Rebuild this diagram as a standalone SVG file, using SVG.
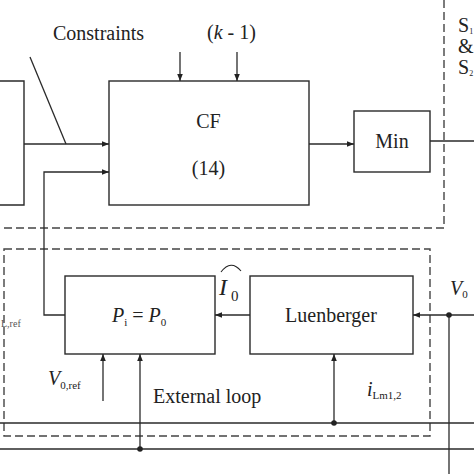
<svg xmlns="http://www.w3.org/2000/svg" width="474" height="474" viewBox="0 0 474 474">
<style>
.b{fill:none;stroke:#2a2a2a;stroke-width:1.4}
.l{fill:none;stroke:#2a2a2a;stroke-width:1.3}
.d{fill:none;stroke:#444;stroke-width:1.4;stroke-dasharray:8 4}
.t{font-family:"Liberation Serif",serif;font-size:20px;fill:#222}
.i{font-style:italic}
.s{font-size:11px}
</style>
<defs>
<marker id="a" viewBox="0 0 10 10" refX="10" refY="5" markerWidth="7" markerHeight="7" markerUnits="userSpaceOnUse" orient="auto">
<path d="M0,1 L10,5 L0,9 z" fill="#222"/>
</marker>
</defs>
<rect width="474" height="474" fill="#fff"/>
<g id="frames">
<path class="d" d="M444,0 V228 H0"/>
<rect class="d" x="4" y="249" width="426" height="187"/>
</g>
<g id="left-block"><path class="b" d="M-2,81 H24 V205 H-2"/></g>
<g id="cf"><rect class="b" x="109" y="81" width="200" height="124"/>
<text class="t" x="208.5" y="128" text-anchor="middle">CF</text>
<text class="t" x="208.5" y="175" text-anchor="middle">(14)</text></g>
<g id="min"><rect class="b" x="354" y="111" width="76" height="61"/>
<text class="t" x="392" y="148" text-anchor="middle">Min</text></g>
<g id="p"><rect class="b" x="65" y="276" width="150" height="78"/>
<text class="t" x="112" y="322"><tspan class="i">P</tspan><tspan class="s" dy="4">i</tspan><tspan dy="-4"> = </tspan><tspan class="i">P</tspan><tspan class="s" dy="4">0</tspan></text></g>
<g id="luenberger"><rect class="b" x="250" y="276" width="163" height="78"/>
<text class="t" x="331" y="322" text-anchor="middle">Luenberger</text></g>
<g id="connectors">
<path class="l" d="M24,144 H109" marker-end="url(#a)"/>
<path class="l" d="M30,57 L66,144"/>
<path class="l" d="M65,315 H44 V172 H109" marker-end="url(#a)"/>
<path class="l" d="M180,52 V81" marker-end="url(#a)"/>
<path class="l" d="M237,52 V81" marker-end="url(#a)"/>
<path class="l" d="M309,144 H354" marker-end="url(#a)"/>
<path class="l" d="M430,141 H474"/>
<path class="l" d="M250,315 H215" marker-end="url(#a)"/>
<path class="l" d="M474,315 H413" marker-end="url(#a)"/>
<path class="l" d="M449,315 V474"/>
<path class="l" d="M0,423 H474"/>
<path class="l" d="M0,449 H474"/>
<path class="l" d="M140,449 V354" marker-end="url(#a)"/>
<path class="l" d="M103,401 V354" marker-end="url(#a)"/>
<path class="l" d="M334,423 V354" marker-end="url(#a)"/>
<circle cx="449" cy="315" r="2.8" fill="#222"/>
<circle cx="140" cy="449" r="2.8" fill="#222"/>
<circle cx="334" cy="423" r="2.8" fill="#222"/>
</g>
<g id="labels">
<text class="t" x="53" y="40">Constraints</text>
<text class="t" x="207" y="39">(<tspan class="i">k</tspan> - 1)</text>
<text class="t" x="458" y="32">S<tspan style="font-size:8px" dy="2">1</tspan></text>
<text class="t" x="458" y="53">&amp;</text>
<text class="t" x="458" y="74">S<tspan style="font-size:8px" dy="2">2</tspan></text>
<text class="t" x="1" y="327" style="font-size:10px;fill:#555">L,ref</text>
<text class="t i" x="219" y="295" style="font-size:24px">I</text>
<text class="t" x="231" y="301" style="font-size:15px">0</text>
<path d="M221,272 Q231,259 241,271" fill="none" stroke="#222" stroke-width="1.1"/>
<text class="t" x="48" y="385"><tspan class="i">V</tspan><tspan class="s" dy="4">0,ref</tspan></text>
<text class="t" x="153" y="403">External loop</text>
<text class="t" x="367" y="396"><tspan class="i">i</tspan><tspan class="s" dy="3">Lm1,2</tspan></text>
<text class="t" x="450" y="295"><tspan class="i">V</tspan><tspan class="s" dy="3">0</tspan></text>
</g>
</svg>
